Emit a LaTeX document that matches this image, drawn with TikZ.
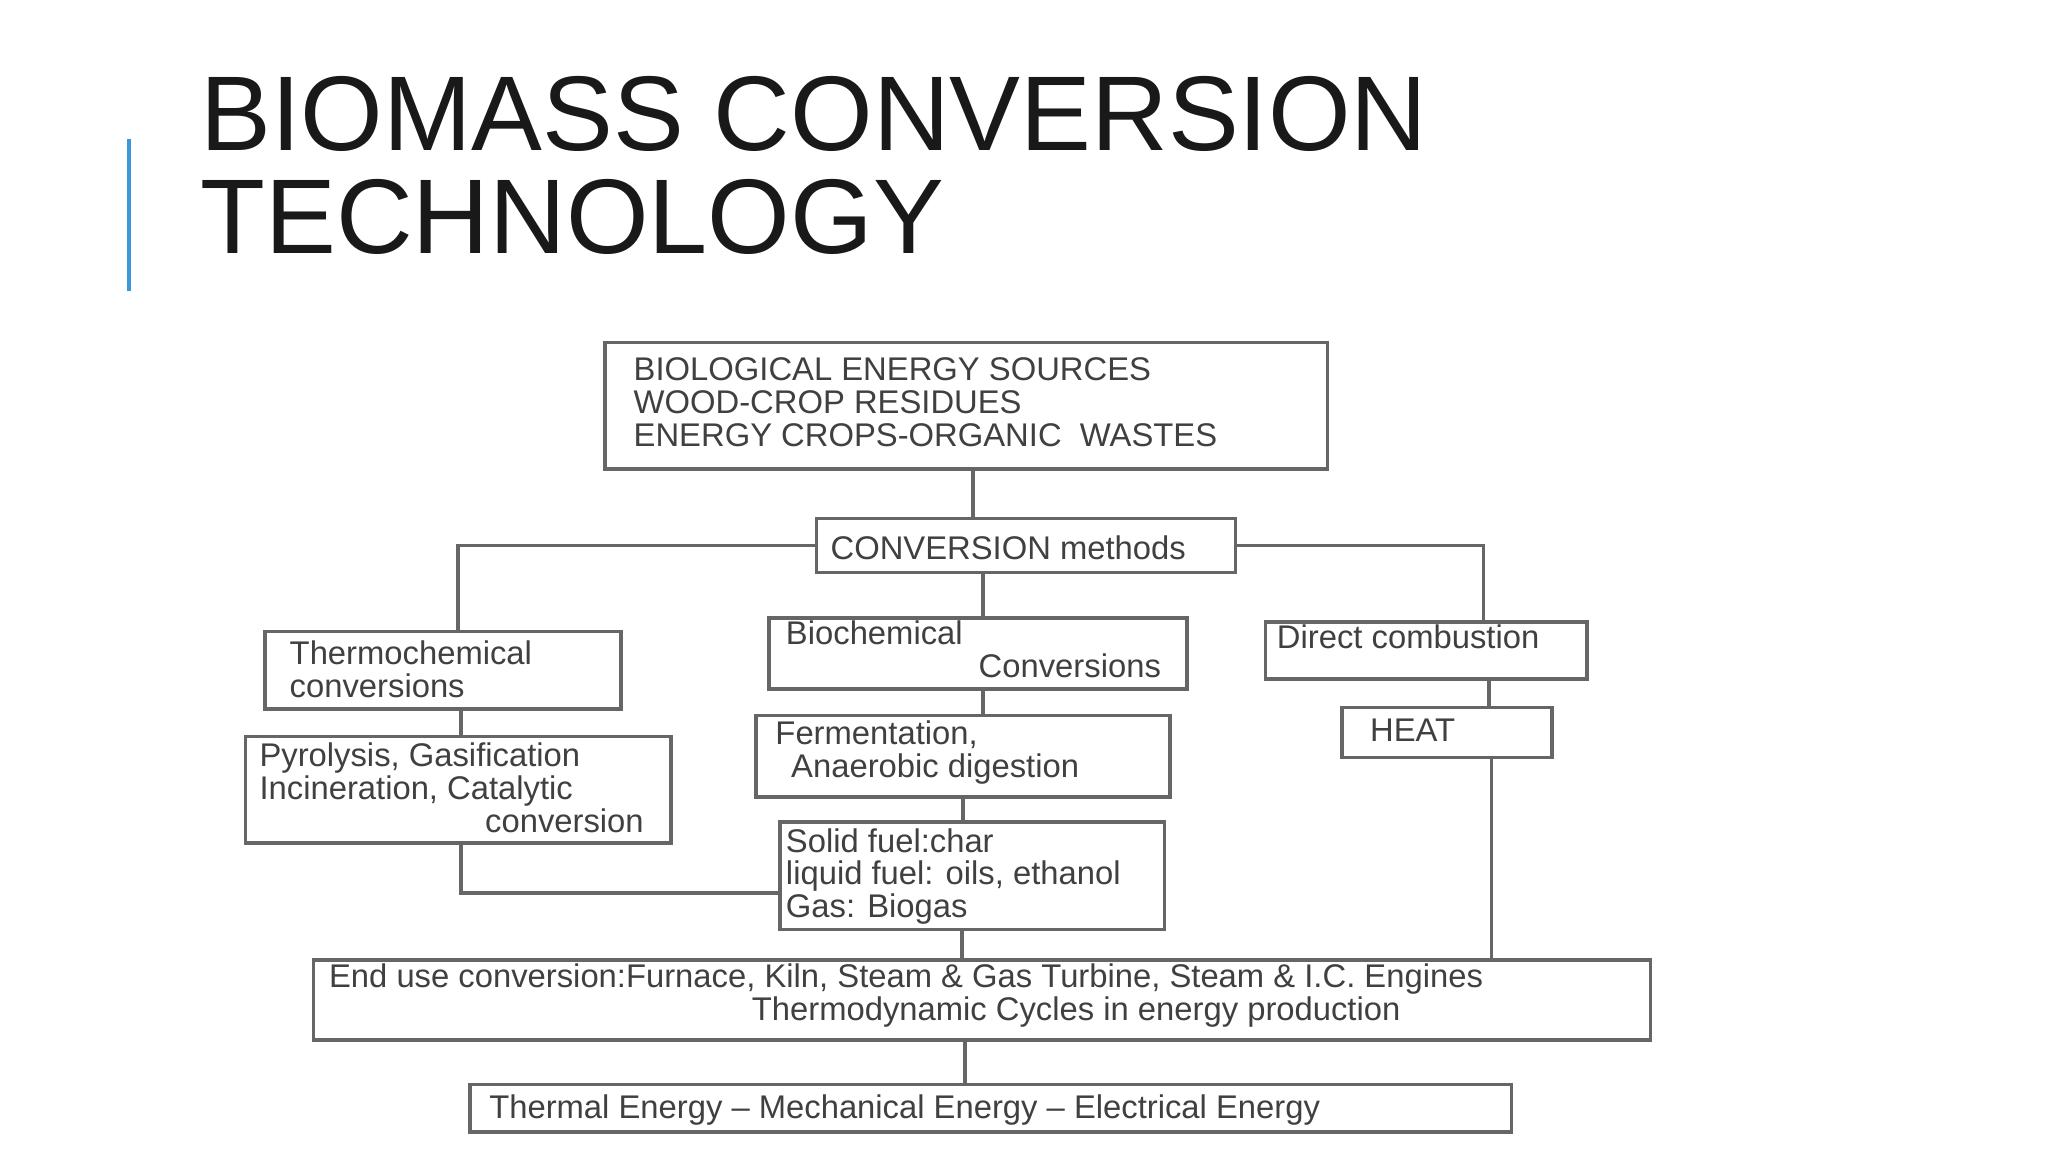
\documentclass[tikz,border=0pt]{standalone}
\usepackage{fontspec}
\setmainfont{Liberation Sans}
\begin{document}
\begin{tikzpicture}[x=0.01cm,y=-0.01cm,
  bx/.style={draw=black!60,line width=0.8pt,inner sep=0pt},
  ln/.style={draw=black!60,line width=0.8pt},
  tx/.style={anchor=base west,inner sep=0pt,text=black!75,font=\fontsize{7.1}{8}\selectfont}]
\useasboundingbox[fill=white] (0,0) rectangle (1560,877.5);
\fill[cyan!70!blue!80] (97,106) rectangle (100,222);
\node[anchor=base west,inner sep=0pt,font=\fontsize{23}{27}\selectfont,text=black!90] (t1) at (152,115) {BIOMASS CONVERSION};
\node[anchor=base west,inner sep=0pt,font=\fontsize{23}{27}\selectfont,text=black!90] (t2) at (152,193) {TECHNOLOGY};
% boxes
\node[bx,minimum width=5.50cm,minimum height=0.96cm] (top) at (736,309) {};
\node[bx,minimum width=3.19cm,minimum height=0.41cm] (conv) at (781.5,415.5) {};
\node[bx,minimum width=2.71cm,minimum height=0.59cm] (thermo) at (337.5,510.5) {};
\node[bx,minimum width=3.18cm,minimum height=0.54cm] (bio) at (745,498) {};
\node[bx,minimum width=2.45cm,minimum height=0.43cm] (direct) at (1086.5,495.5) {};
\node[bx,minimum width=1.60cm,minimum height=0.38cm] (heat) at (1102,558) {};
\node[bx,minimum width=3.24cm,minimum height=0.81cm] (pyro) at (349,601.5) {};
\node[bx,minimum width=3.15cm,minimum height=0.62cm] (ferm) at (733.5,576) {};
\node[bx,minimum width=2.93cm,minimum height=0.82cm] (fuel) at (740.5,667) {};
\node[bx,minimum width=10.18cm,minimum height=0.61cm] (end) at (748,761.5) {};
\node[bx,minimum width=7.93cm,minimum height=0.36cm] (final) at (754.5,844) {};
% texts
\node[tx] (a1) at (482,290) {BIOLOGICAL ENERGY SOURCES};
\node[tx] (a2) at (482,315) {WOOD-CROP RESIDUES};
\node[tx] (a3) at (482,340) {ENERGY CROPS-ORGANIC\ \ WASTES};
\node[tx] (b1) at (632,426) {CONVERSION methods};
\node[tx] (c1) at (220,506) {Thermochemical};
\node[tx] (c2) at (220,531) {conversions};
\node[tx] (d1) at (598,491) {Biochemical};
\node[tx,anchor=base east] (d2) at (885,516) {Conversions};
\node[tx] (e1) at (972,494) {Direct combustion};
\node[tx] (f1) at (1043,565) {HEAT};
\node[tx] (g1) at (197,584) {Pyrolysis, Gasification};
\node[tx] (g2) at (197,609) {Incineration, Catalytic};
\node[tx,anchor=base east] (g3) at (491,634) {conversion};
\node[tx] (h1) at (590,567) {Fermentation,};
\node[tx] (h2) at (602,592) {Anaerobic digestion};
\node[tx] (i1) at (598,649) {Solid fuel:char};
\node[tx] (i2) at (598,674) {liquid fuel: oils, ethanol};
\node[tx] (i3) at (598,699) {Gas: Biogas};
\node[tx] (j1) at (250,752) {End use conversion:Furnace, Kiln, Steam \& Gas Turbine, Steam \& I.C. Engines};
\node[tx] (j2) at (572,777) {Thermodynamic Cycles in energy production};
\node[tx] (k1) at (372,852) {Thermal Energy -- Mechanical Energy -- Electrical Energy};
% connectors
\draw[ln] ([xshift=0.05cm]top.south) -- ([xshift=0.05cm]top.south |- conv.north);
\draw[ln] (conv.west) -| ([xshift=0.115cm]thermo.north);
\draw[ln] (conv.east) -| ([xshift=0.435cm]direct.north);
\draw[ln] ([xshift=0.04cm]bio.north |- conv.south) -- ([xshift=0.04cm]bio.north);
\draw[ln] ([xshift=0.135cm]thermo.south) -- ([xshift=0.135cm]thermo.south |- pyro.north);
\draw[ln] ([xshift=0.02cm]pyro.south) |- (fuel.west |- 0,680);
\draw[ln] ([xshift=0.04cm]bio.south) -- ([xshift=0.04cm]bio.south |- ferm.north);
\draw[ln] (ferm.south) -- (ferm.south |- fuel.north);
\draw[ln] ([xshift=-0.075cm]fuel.south) -- ([xshift=-0.075cm]fuel.south |- end.north);
\draw[ln] ([xshift=0.475cm]direct.south) -- ([xshift=0.475cm]direct.south |- heat.north);
\draw[ln] ([xshift=0.34cm]heat.south) -- ([xshift=0.34cm]heat.south |- end.north);
\draw[ln] ([xshift=-0.13cm]end.south) -- ([xshift=-0.13cm]end.south |- final.north);
\end{tikzpicture}
\end{document}
